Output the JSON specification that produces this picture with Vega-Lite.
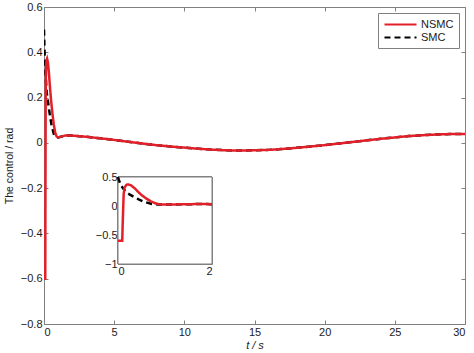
{
  "$schema": "https://vega.github.io/schema/vega-lite/v6.json",
  "width": 421,
  "height": 317,
  "autosize": "none",
  "padding": {"left": 44, "top": 7, "right": 9, "bottom": 29},
  "background": "white",
  "config": {
    "view": {"stroke": "#808080", "strokeWidth": 1},
    "font": "Liberation Sans",
    "axis": {
      "grid": false,
      "domainColor": "#808080",
      "tickColor": "#808080",
      "labelColor": "#1a1a1a",
      "labelFont": "Liberation Sans",
      "labelFontSize": 11,
      "titleFont": "Liberation Sans",
      "titleFontWeight": "normal",
      "titleColor": "#1a1a1a",
      "tickSize": -4,
      "labelPadding": 6
    }
  },
  "data": {
    "values": [
      {"t": 0, "v": 0.5, "s": "SMC"},
      {"t": 0.03, "v": 0.42, "s": "SMC"},
      {"t": 0.07, "v": 0.35, "s": "SMC"},
      {"t": 0.11, "v": 0.3, "s": "SMC"},
      {"t": 0.2, "v": 0.22, "s": "SMC"},
      {"t": 0.33, "v": 0.16, "s": "SMC"},
      {"t": 0.45, "v": 0.11, "s": "SMC"},
      {"t": 0.55, "v": 0.075, "s": "SMC"},
      {"t": 0.72, "v": 0.035, "s": "SMC"},
      {"t": 0.85, "v": 0.025, "s": "SMC"},
      {"t": 1.0, "v": 0.024, "s": "SMC"},
      {"t": 1.2, "v": 0.027, "s": "SMC"},
      {"t": 1.5, "v": 0.032, "s": "SMC"},
      {"t": 1.8, "v": 0.033, "s": "SMC"},
      {"t": 2.0, "v": 0.032, "s": "SMC"},
      {"t": 3, "v": 0.027, "s": "SMC"},
      {"t": 4, "v": 0.02, "s": "SMC"},
      {"t": 5, "v": 0.013, "s": "SMC"},
      {"t": 6, "v": 0.005, "s": "SMC"},
      {"t": 7, "v": -0.003, "s": "SMC"},
      {"t": 8, "v": -0.01, "s": "SMC"},
      {"t": 9, "v": -0.016, "s": "SMC"},
      {"t": 10, "v": -0.021, "s": "SMC"},
      {"t": 11, "v": -0.026, "s": "SMC"},
      {"t": 12, "v": -0.03, "s": "SMC"},
      {"t": 13, "v": -0.033, "s": "SMC"},
      {"t": 14, "v": -0.034, "s": "SMC"},
      {"t": 15, "v": -0.033, "s": "SMC"},
      {"t": 16, "v": -0.031, "s": "SMC"},
      {"t": 17, "v": -0.027, "s": "SMC"},
      {"t": 18, "v": -0.022, "s": "SMC"},
      {"t": 19, "v": -0.016, "s": "SMC"},
      {"t": 20, "v": -0.01, "s": "SMC"},
      {"t": 21, "v": -0.003, "s": "SMC"},
      {"t": 22, "v": 0.004, "s": "SMC"},
      {"t": 23, "v": 0.011, "s": "SMC"},
      {"t": 24, "v": 0.018, "s": "SMC"},
      {"t": 25, "v": 0.024, "s": "SMC"},
      {"t": 26, "v": 0.03, "s": "SMC"},
      {"t": 27, "v": 0.034, "s": "SMC"},
      {"t": 28, "v": 0.037, "s": "SMC"},
      {"t": 29, "v": 0.039, "s": "SMC"},
      {"t": 30, "v": 0.039, "s": "SMC"},
      {"t": 0, "v": -0.6, "s": "NSMC"},
      {"t": 0.09, "v": -0.6, "s": "NSMC"},
      {"t": 0.1, "v": -0.3, "s": "NSMC"},
      {"t": 0.12, "v": 0.2, "s": "NSMC"},
      {"t": 0.14, "v": 0.32, "s": "NSMC"},
      {"t": 0.18, "v": 0.365, "s": "NSMC"},
      {"t": 0.22, "v": 0.372, "s": "NSMC"},
      {"t": 0.28, "v": 0.355, "s": "NSMC"},
      {"t": 0.35, "v": 0.31, "s": "NSMC"},
      {"t": 0.42, "v": 0.25, "s": "NSMC"},
      {"t": 0.5, "v": 0.19, "s": "NSMC"},
      {"t": 0.6, "v": 0.13, "s": "NSMC"},
      {"t": 0.7, "v": 0.08, "s": "NSMC"},
      {"t": 0.8, "v": 0.045, "s": "NSMC"},
      {"t": 0.9, "v": 0.028, "s": "NSMC"},
      {"t": 1.0, "v": 0.024, "s": "NSMC"},
      {"t": 1.2, "v": 0.027, "s": "NSMC"},
      {"t": 1.5, "v": 0.032, "s": "NSMC"},
      {"t": 1.8, "v": 0.033, "s": "NSMC"},
      {"t": 2.0, "v": 0.032, "s": "NSMC"},
      {"t": 3, "v": 0.027, "s": "NSMC"},
      {"t": 4, "v": 0.02, "s": "NSMC"},
      {"t": 5, "v": 0.013, "s": "NSMC"},
      {"t": 6, "v": 0.005, "s": "NSMC"},
      {"t": 7, "v": -0.003, "s": "NSMC"},
      {"t": 8, "v": -0.01, "s": "NSMC"},
      {"t": 9, "v": -0.016, "s": "NSMC"},
      {"t": 10, "v": -0.021, "s": "NSMC"},
      {"t": 11, "v": -0.026, "s": "NSMC"},
      {"t": 12, "v": -0.03, "s": "NSMC"},
      {"t": 13, "v": -0.033, "s": "NSMC"},
      {"t": 14, "v": -0.034, "s": "NSMC"},
      {"t": 15, "v": -0.033, "s": "NSMC"},
      {"t": 16, "v": -0.031, "s": "NSMC"},
      {"t": 17, "v": -0.027, "s": "NSMC"},
      {"t": 18, "v": -0.022, "s": "NSMC"},
      {"t": 19, "v": -0.016, "s": "NSMC"},
      {"t": 20, "v": -0.01, "s": "NSMC"},
      {"t": 21, "v": -0.003, "s": "NSMC"},
      {"t": 22, "v": 0.004, "s": "NSMC"},
      {"t": 23, "v": 0.011, "s": "NSMC"},
      {"t": 24, "v": 0.018, "s": "NSMC"},
      {"t": 25, "v": 0.024, "s": "NSMC"},
      {"t": 26, "v": 0.03, "s": "NSMC"},
      {"t": 27, "v": 0.034, "s": "NSMC"},
      {"t": 28, "v": 0.037, "s": "NSMC"},
      {"t": 29, "v": 0.039, "s": "NSMC"},
      {"t": 30, "v": 0.039, "s": "NSMC"}
    ]
  },
  "resolve": {"scale": {"x": "independent", "y": "independent"}, "axis": {"x": "independent", "y": "independent"}},
  "layer": [
    {
      "mark": {"type": "line", "strokeWidth": 2.5, "clip": true},
      "encoding": {
        "x": {"field": "t", "type": "quantitative", "scale": {"domain": [0, 30], "nice": false},
          "axis": {"orient": "bottom", "values": [0, 5, 10, 15, 20, 25, 30], "title": "t / s", "titleFontStyle": "italic", "titleFontSize": 11, "titlePadding": 2}},
        "y": {"field": "v", "type": "quantitative", "scale": {"domain": [-0.8, 0.6], "nice": false, "zero": false},
          "axis": {"orient": "left", "values": [-0.8, -0.6, -0.4, -0.2, 0, 0.2, 0.4, 0.6], "format": ".1~f", "title": "The control  / rad", "titleFontSize": 10.5, "titlePadding": 6}},
        "color": {"field": "s", "type": "nominal", "scale": {"domain": ["NSMC", "SMC"], "range": ["#e3202a", "#000000"]},
          "legend": {"title": null, "orient": "top-right", "offset": 6, "symbolType": "M-1,0H5.4", "symbolSize": 100, "symbolStrokeWidth": 2.2, "labelFontSize": 11, "labelColor": "#1a1a1a", "strokeColor": "#808080", "fillColor": "white", "padding": 5, "rowPadding": 1, "labelOffset": 25}},
        "strokeDash": {"field": "s", "type": "nominal", "scale": {"domain": ["NSMC", "SMC"], "range": [[1, 0], [6, 4]]},
          "legend": {"title": null, "orient": "top-right", "offset": 6, "symbolType": "M-1,0H5.4", "symbolSize": 100, "symbolStrokeWidth": 2.2, "labelFontSize": 11, "labelColor": "#1a1a1a", "strokeColor": "#808080", "fillColor": "white", "padding": 5, "rowPadding": 1, "labelOffset": 25}}
      }
    },
    {
      "mark": {"type": "point", "opacity": 0},
      "encoding": {
        "x": {"datum": 0, "type": "quantitative", "scale": {"domain": [0, 30], "nice": false},
          "axis": {"orient": "top", "values": [0, 5, 10, 15, 20, 25, 30], "labels": false, "title": null, "domain": false}},
        "y": {"datum": 0, "type": "quantitative", "scale": {"domain": [-0.8, 0.6], "nice": false, "zero": false},
          "axis": {"orient": "right", "values": [-0.8, -0.6, -0.4, -0.2, 0, 0.2, 0.4, 0.6], "labels": false, "title": null, "domain": false}}
      }
    },
    {
      "transform": [{"filter": "datum.t <= 2"}],
      "resolve": {"scale": {"x": "shared", "y": "shared"}, "axis": {"x": "shared", "y": "shared"}},
      "layer": [
        {
          "mark": {"type": "rect", "fill": "white", "stroke": "#808080", "strokeWidth": 1},
          "encoding": {
            "x": {"datum": 0, "type": "quantitative", "scale": {"domain": [0, 2], "nice": false, "range": [74, 168]},
              "axis": {"orient": "bottom", "offset": -60, "values": [0, 1, 2], "format": "d", "title": null, "tickSize": -3, "labelPadding": 4}},
            "x2": {"datum": 2},
            "y": {"datum": -1, "type": "quantitative", "scale": {"domain": [-1, 0.5], "nice": false, "zero": false, "range": [257, 170]},
              "axis": {"orient": "left", "offset": -74, "values": [-1, -0.5, 0, 0.5], "format": "~g", "title": null, "tickSize": -3, "labelPadding": 4}},
            "y2": {"datum": 0.5}
          }
        },
        {
          "mark": {"type": "line", "strokeWidth": 2.5},
          "encoding": {
            "x": {"field": "t", "type": "quantitative", "scale": {"domain": [0, 2], "nice": false, "range": [74, 168]},
              "axis": {"orient": "bottom", "offset": -60, "values": [0, 1, 2], "format": "d", "title": null, "tickSize": -3, "labelPadding": 4}},
            "y": {"field": "v", "type": "quantitative", "scale": {"domain": [-1, 0.5], "nice": false, "zero": false, "range": [257, 170]},
              "axis": {"orient": "left", "offset": -74, "values": [-1, -0.5, 0, 0.5], "format": "~g", "title": null, "tickSize": -3, "labelPadding": 4}},
            "color": {"field": "s", "type": "nominal", "legend": null},
            "strokeDash": {"field": "s", "type": "nominal", "legend": null}
          }
        }
      ]
    }
  ]
}
